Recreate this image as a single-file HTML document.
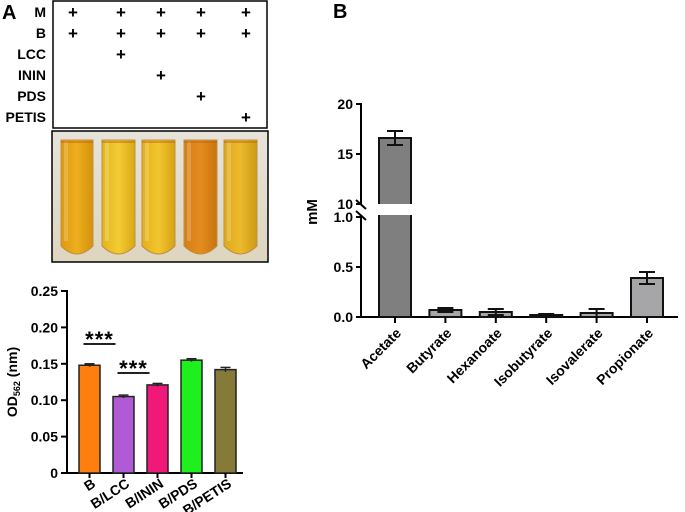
<!DOCTYPE html>
<html><head><meta charset="utf-8"><style>
body{margin:0;background:#fff;}
svg{display:block;font-family:"Liberation Sans",Arial,sans-serif;font-weight:bold;}
</style></head><body>
<svg id="fig" width="685" height="512" viewBox="0 0 685 512">
<defs>
<linearGradient id="bg" x1="0" x2="0" y1="0" y2="1"><stop offset="0" stop-color="#e6e3da"/><stop offset="1" stop-color="#ddd5bf"/></linearGradient>
<linearGradient id="t1" x1="0" x2="1"><stop offset="0" stop-color="#dc9a12"/><stop offset=".5" stop-color="#eeae1c"/><stop offset="1" stop-color="#d3920e"/></linearGradient>
<linearGradient id="t2" x1="0" x2="1"><stop offset="0" stop-color="#e2b41c"/><stop offset=".5" stop-color="#f4cc34"/><stop offset="1" stop-color="#d8a816"/></linearGradient>
<linearGradient id="t3" x1="0" x2="1"><stop offset="0" stop-color="#e2b01a"/><stop offset=".5" stop-color="#f2c62e"/><stop offset="1" stop-color="#d6a214"/></linearGradient>
<linearGradient id="t4" x1="0" x2="1"><stop offset="0" stop-color="#d67e16"/><stop offset=".5" stop-color="#e48c1e"/><stop offset="1" stop-color="#c87410"/></linearGradient>
<linearGradient id="t5" x1="0" x2="1"><stop offset="0" stop-color="#dcaa1c"/><stop offset=".5" stop-color="#ecba2c"/><stop offset="1" stop-color="#cc9a16"/></linearGradient>
</defs>
<text x="2" y="19" font-size="20">A</text>
<text x="333" y="18" font-size="20">B</text>
<rect x="53" y="1" width="214" height="127" fill="none" stroke="#000" stroke-width="1.5"/>
<g id="table" font-size="14"></g>
<rect x="52" y="131" width="216" height="131" fill="url(#bg)" stroke="#000" stroke-width="1.5"/>
<g id="tubes"></g>
<g id="chartA"></g>
<g id="chartB"></g>
</svg>
<script>
const NS="http://www.w3.org/2000/svg";
function mk(p,t,a,txt){const e=document.createElementNS(NS,t);for(const k in a)e.setAttribute(k,a[k]);if(txt!==undefined)e.textContent=txt;p.appendChild(e);return e;}
// Table
const rowLabels=["M","B","LCC","ININ","PDS","PETIS"];
const plusCols=[73,121,161,201,246];
const plusMap=[[1,1,1,1,1],[1,1,1,1,1],[0,1,0,0,0],[0,0,1,0,0],[0,0,0,1,0],[0,0,0,0,1]];
const tb=document.getElementById('table');
rowLabels.forEach((r,i)=>{const y=17+i*21;
 const t=mk(tb,'text',{x:46,y:y,'text-anchor':'end'},r);
 
 
 plusMap[i].forEach((v,j)=>{if(v){const p=mk(tb,'text',{x:plusCols[j],y:y+1,'text-anchor':'middle','font-size':17},'+');
  
  }});
});
// Tubes
const tg=document.getElementById('tubes');
[[61,32],[102,33],[142,33],[184,33],[224,33]].forEach((c,i)=>{
 const x=c[0],w=c[1];
 const pth=mk(tg,'path',{d:`M${x} 140 L${x+w} 140 L${x+w} 246 Q${x+w/2} 262 ${x} 246 Z`,fill:`url(#t${i+1})`,stroke:'#c09040','stroke-width':1});
 
 
 mk(tg,'rect',{x:x+3,y:141,width:4,height:100,fill:'#fff',opacity:.2});
 mk(tg,'line',{x1:x,x2:x+w,y1:142,y2:142,stroke:'#c06010','stroke-width':1.5,opacity:.6});
});
// Chart A
const catsA=["B","B/LCC","B/ININ","B/PDS","B/PETIS"];
const valsA=[0.148,0.105,0.121,0.155,0.142];
const errA=[0.002,0.002,0.002,0.002,0.003];
const colorsA=["#ff7f0e","#b05ad6","#f0197a","#1ef01e","#857a38"];
const ticksA=[0,0.05,0.10,0.15,0.20,0.25];
const tickLabA=["0","0.05","0.10","0.15","0.20","0.25"];
const ga=document.getElementById('chartA');
const yA=v=>473-v*(182/0.25);
const xA=i=>89.5+i*34;
mk(ga,'line',{x1:67,y1:290,x2:67,y2:474,stroke:'#000','stroke-width':2});
mk(ga,'line',{x1:66,y1:473,x2:243,y2:473,stroke:'#000','stroke-width':2});
ticksA.forEach((t,i)=>{mk(ga,'line',{x1:61,x2:67,y1:yA(t),y2:yA(t),stroke:'#000','stroke-width':2});
 const l=mk(ga,'text',{x:58,y:yA(t)+5,'text-anchor':'end','font-size':14},tickLabA[i]);
 
 });
const ylab=mk(ga,'text',{transform:'translate(17,382) rotate(-90)','text-anchor':'middle','font-size':14},'');
ylab.innerHTML='OD<tspan font-size="9" dy="3">562</tspan><tspan dy="-3"> (nm)</tspan>';


catsA.forEach((c,i)=>{const x=xA(i),w=21;
 const b=mk(ga,'rect',{x:x-w/2,y:yA(valsA[i]),width:w,height:473-yA(valsA[i]),fill:colorsA[i],stroke:'#222','stroke-width':1.5});
 
 
 const e1=yA(valsA[i]+errA[i]),e2=yA(valsA[i]-errA[i]);
 mk(ga,'line',{x1:x,x2:x,y1:e1,y2:e2,stroke:'#222','stroke-width':1.5});
 mk(ga,'line',{x1:x-5,x2:x+5,y1:e1,y2:e1,stroke:'#222','stroke-width':1.5});
 mk(ga,'line',{x1:x,x2:x,y1:473,y2:478,stroke:'#000','stroke-width':2});
 const l=mk(ga,'text',{transform:`translate(${x+7},${486}) rotate(-33)`,'text-anchor':'end','font-size':14},c);
 
 
});
[[0,1,344],[1,2,373]].forEach(s=>{
 mk(ga,'line',{x1:xA(s[0])-6,x2:xA(s[1])-8,y1:s[2],y2:s[2],stroke:'#222','stroke-width':2});
 const t=mk(ga,'text',{x:(xA(s[0])+xA(s[1]))/2-7,y:s[2]+3,'text-anchor':'middle','font-size':22,'letter-spacing':'1'},'***');
 
 
});
// Chart B
const catsB=["Acetate","Butyrate","Hexanoate","Isobutyrate","Isovalerate","Propionate"];
const valsB=[16.6,0.07,0.05,0.02,0.04,0.39];
const errB=[0.7,0.02,0.03,0.01,0.04,0.06];
const ticksLow=[0,0.5,1.0];const tickLabLow=["0.0","0.5","1.0"];
const ticksHigh=[10,15,20];const tickLabHigh=["10","15","20"];
const gb=document.getElementById('chartB');
const yB=v=>v<=1?317-v*100:204-(v-10)*10;
const xB=i=>395+i*50.4;
mk(gb,'line',{x1:361,y1:103,x2:361,y2:205,stroke:'#000','stroke-width':2});
mk(gb,'line',{x1:361,y1:215,x2:361,y2:318,stroke:'#000','stroke-width':2});
mk(gb,'line',{x1:356,y1:200,x2:366,y2:209,stroke:'#000','stroke-width':2});
mk(gb,'line',{x1:356,y1:211,x2:366,y2:220,stroke:'#000','stroke-width':2});
mk(gb,'line',{x1:360,y1:317,x2:678,y2:317,stroke:'#000','stroke-width':2});
ticksLow.concat(ticksHigh).forEach((t,i)=>{const y=yB(t);
 mk(gb,'line',{x1:356,x2:361,y1:y,y2:y,stroke:'#000','stroke-width':2});
 const l=mk(gb,'text',{x:353,y:y+5,'text-anchor':'end','font-size':14},tickLabLow.concat(tickLabHigh)[i]);
 
 });
const yl=mk(gb,'text',{transform:'translate(317,212) rotate(-90)','text-anchor':'middle','font-size':15},'mM');


catsB.forEach((c,i)=>{const x=xB(i),w=32;
 const top=yB(valsB[i]);
 const b=mk(gb,'rect',{x:x-w/2,y:top,width:w,height:317-top,fill:i==0?'#7f7f7f':'#a6a6a8',stroke:'#111','stroke-width':2});
 
 
 if(valsB[i]>1){mk(gb,'rect',{x:x-w/2-2,y:204,width:w+4,height:11,fill:'#fff'});}
 const e1=yB(valsB[i]+errB[i]),e2=yB(valsB[i]-errB[i]);
 mk(gb,'line',{x1:x,x2:x,y1:e1,y2:e2,stroke:'#111','stroke-width':2});
 mk(gb,'line',{x1:x-8,x2:x+8,y1:e1,y2:e1,stroke:'#111','stroke-width':2});
 mk(gb,'line',{x1:x-8,x2:x+8,y1:e2,y2:e2,stroke:'#111','stroke-width':2});
 mk(gb,'line',{x1:x,x2:x,y1:317,y2:323,stroke:'#000','stroke-width':2});
 const l=mk(gb,'text',{transform:`translate(${x+7},${334}) rotate(-45)`,'text-anchor':'end','font-size':14},c);
 
 
});
</script>
</body></html>
